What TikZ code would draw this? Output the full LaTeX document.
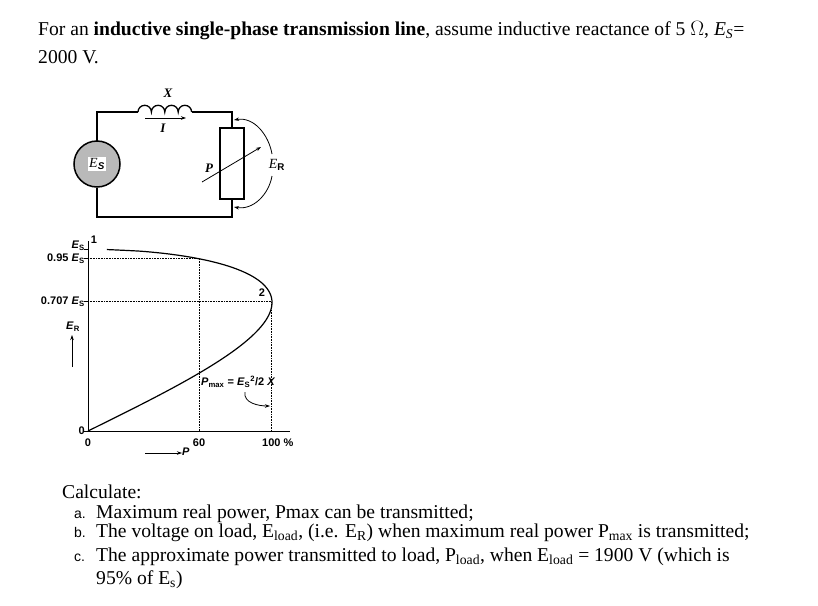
\documentclass[tikz,border=0pt]{standalone}
\usepackage{fontspec}
\setmainfont{Liberation Serif}
\setsansfont{Liberation Sans}
\usetikzlibrary{arrows.meta,decorations.pathmorphing}
\begin{document}
\begin{tikzpicture}[x=1pt,y=-1pt,
  txt/.style={inner sep=0pt,anchor=base west,font=\fontsize{19.6}{22}\selectfont},
  lbl/.style={inner sep=0pt,font=\sffamily\bfseries\fontsize{11}{12}\selectfont},
  wire/.style={line width=1.3pt},
  dot/.style={densely dotted,line width=0.6pt},
  arr/.style={-{Stealth[length=5pt,width=3.5pt]},line width=0.8pt}]
\useasboundingbox (0,0) rectangle (818,605);
% header text
\node[txt] (t1) at (38,35) {For an \textbf{inductive single-phase transmission line}, assume inductive reactance of 5 $\Omega$, \textit{E}\textsubscript{\textit{S}}=};
\node[txt] (t2) at (38,63) {2000 V.};
% circuit
\coordinate (tl) at (97,112); \coordinate (tr) at (232,112);
\coordinate (bl) at (97,217); \coordinate (br) at (232,217);
\draw[wire] (97,141) -- (tl) -- (138,112);
\draw[wire] (138,112) arc[start angle=180,end angle=360,radius=6.7] arc[start angle=180,end angle=360,radius=6.7] arc[start angle=180,end angle=360,radius=6.7] arc[start angle=180,end angle=360,radius=6.7];
\draw[wire] (191.6,112) -- (tr) -- (232,128);
\draw[wire] (232,199) -- (br) -- (bl) -- (97,188);
\node[circle,draw,line width=1.5pt,fill=gray!55,minimum size=46pt,inner sep=0pt] (es) at (97,164) {};
\node[fill=white,inner sep=1pt,font=\itshape\fontsize{14}{15}\selectfont] (esl) at (es) {E\textsubscript{\sffamily\bfseries S}};
\node[draw,line width=1.3pt,minimum width=24pt,minimum height=71pt,inner sep=0pt] (R) at (232,163.5) {};
\draw[arr] (202,182) -- (261,147);
\node[inner sep=0pt,font=\itshape\bfseries\fontsize{13}{14}\selectfont] (P) at (209,168) {P};
\node[inner sep=0pt,font=\itshape\bfseries\fontsize{13}{14}\selectfont] (X) at (168,93) {X};
\draw[arr] (145,118) -- (186,118);
\node[inner sep=0pt,font=\itshape\bfseries\fontsize{13}{14}\selectfont] (I) at (163,128) {I};
\node[inner sep=0pt,font=\fontsize{14}{15}\selectfont] (ER) at (277,165) {\textit{E}\textsubscript{\sffamily\bfseries R}};
\draw[arr] (272,154) to[out=100,in=10] (234,120);
\draw[arr] (272,176) to[out=-100,in=-10] (234,207);
% graph
\coordinate (O) at (88,431);
\draw[line width=1pt] (88,241) -- (O) -- (290,431);
\draw[line width=0.8pt] (84,249) -- (88,249) (84,258) -- (88,258) (84,301) -- (88,301) (84,431) -- (88,431);
\draw[dot] (88,258) -- (199,258) -- (199,431);
\draw[dot] (88,301) -- (271,301) -- (271,431);
\draw[line width=1.2pt] plot[domain=0:1,samples=120,smooth] ({88+184*2*\x*sqrt(max(0,1-\x*\x))},{431-181.7*\x});
\node[lbl,anchor=east] (l1) at (85,246) {\textit{E}\textsubscript{S}};
\node[lbl] (one) at (94,240) {1};
\node[lbl,anchor=east] (l95) at (85,259) {0.95 \textit{E}\textsubscript{S}};
\node[lbl,anchor=east] (l707) at (85,302) {0.707 \textit{E}\textsubscript{S}};
\node[lbl] (two) at (262,293) {2};
\node[lbl] (ery) at (73,327) {\textit{E}\textsubscript{R}};
\draw[arr] (72,367) -- (72,335);
\node[lbl,anchor=east] (z0) at (85,431) {0};
\node[lbl] (x0) at (88,443) {0};
\node[lbl] (x60) at (199,443) {60};
\node[lbl,anchor=west] (x100) at (262,443) {100 \%};
\draw[arr] (145,453) -- (182,453);
\node[lbl,anchor=west] (pl) at (182,452) {\textit{P}};
\node[lbl,anchor=west] (pmax) at (201,382) {\textit{P}\textsubscript{max} = \textit{E}\textsubscript{S}\textsuperscript{2}/2 \textit{X}};
\draw[arr] (245,392) to[out=-100,in=180] (270,406);
% question text
\node[txt] (calc) at (62,498) {Calculate:};
\node[inner sep=0pt,anchor=base west,font=\sffamily\fontsize{14}{15}\selectfont] at (74,518) {a.};
\node[txt] (qa) at (96,518) {Maximum real power, Pmax can be transmitted;};
\node[inner sep=0pt,anchor=base west,font=\sffamily\fontsize{14}{15}\selectfont] at (74,537) {b.};
\node[txt] (qb) at (96,537) {The voltage on load, E\textsubscript{load}, (i.e. E\textsubscript{R}) when maximum real power P\textsubscript{max} is transmitted;};
\node[inner sep=0pt,anchor=base west,font=\sffamily\fontsize{14}{15}\selectfont] at (74,561) {c.};
\node[txt] (qc) at (96,561) {The approximate power transmitted to load, P\textsubscript{load}, when E\textsubscript{load} = 1900 V (which is};
\node[txt] (qc2) at (96,584) {95\% of E\textsubscript{s})};
\end{tikzpicture}
\end{document}
